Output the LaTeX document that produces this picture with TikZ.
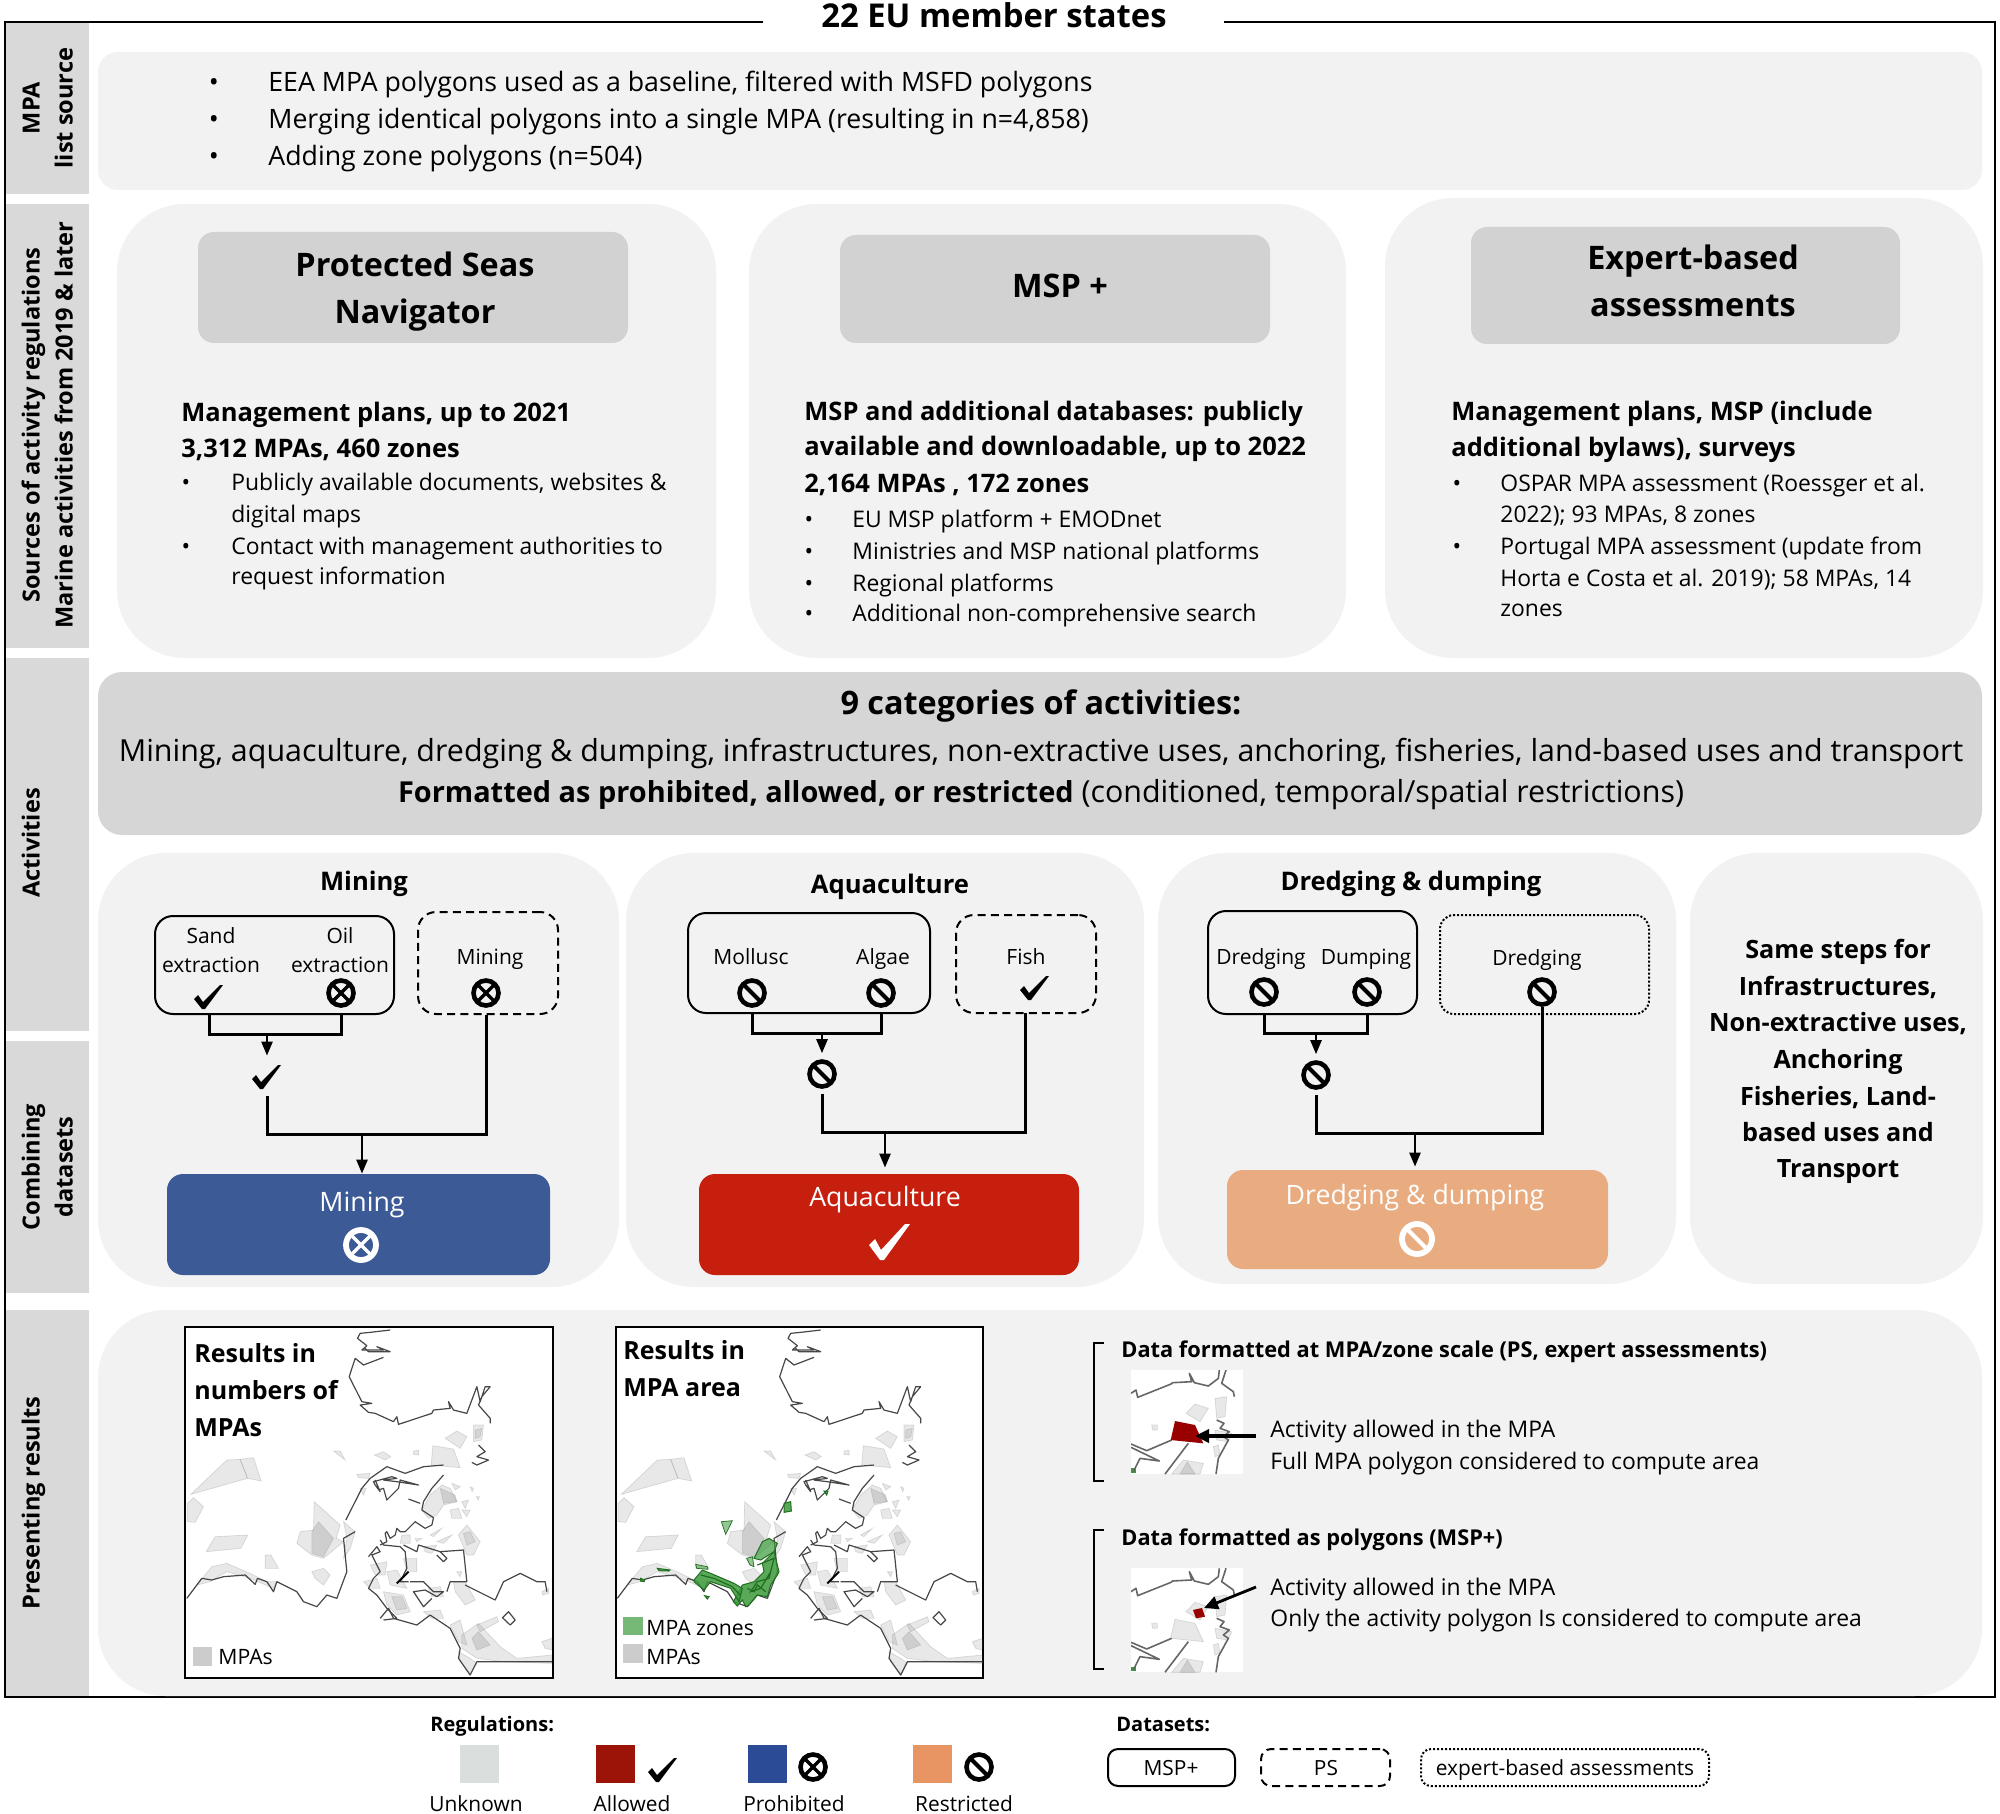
\documentclass[tikz,border=0pt]{standalone}
\usepackage{fontspec}
\setmainfont{Open Sans}
\usetikzlibrary{arrows.meta,calc}
\definecolor{panel}{HTML}{F2F2F2}
\definecolor{strip}{HTML}{D9D9D9}
\definecolor{hdr}{HTML}{D2D2D2}
\definecolor{actb}{HTML}{D6D6D6}
\definecolor{blueb}{HTML}{3C5A96}
\definecolor{redb}{HTML}{C61F0E}
\definecolor{orb}{HTML}{E8AC80}
\definecolor{gfill}{HTML}{3C9A3C}
\definecolor{gline}{HTML}{1F6E1F}
\newcommand\fsz[1]{\fontsize{#1}{#1}\selectfont}
\tikzset{
  txt/.style={inner sep=0pt,text height=1.16em,text depth=.22em},
  lft/.style={txt,anchor=west},
  f9/.style={font=\fsz{10.5},text height=.98em},
  f10/.style={font=\fsz{11.45}},
  f12/.style={font=\fsz{13.35}},
  fb11/.style={font=\bfseries\fsz{12.75}},
  fb15/.style={font=\bfseries\fsz{16.2}},
  fb/.style={font=\bfseries\fsz{#1}},
  fn/.style={font=\fsz{#1},text height=.98em},
  vlab/.style={txt,rotate=90,font=\bfseries\fsz{11.8},text height=.98em},
  pn/.style={fill=panel,draw=none,rounded corners=34pt},
  hd/.style={fill=hdr,draw=none,rounded corners=8pt},
  solidb/.style={draw=black,line width=1pt,rounded corners=9pt,fill=none},
  dashb/.style={draw=black,line width=1pt,rounded corners=9pt,fill=none,dash pattern=on 4pt off 2.6pt},
  dotb/.style={draw=black,line width=1pt,rounded corners=7pt,fill=none,dash pattern=on 1pt off 1pt},
  colb/.style={fill=#1,draw=none,rounded corners=8pt},
  wire/.style={draw=black,line width=1.5pt},
  arr/.style={draw=black,line width=1.25pt,-{Triangle[length=7pt,width=5.5pt]}},
  noic/.style={circle,draw=#1,line width=2.3pt,minimum size=12.5pt,inner sep=0pt,
     path picture={\draw[#1,line width=1.7pt] (path picture bounding box.north west)--(path picture bounding box.south east);
       \draw[#1,line width=1.7pt] (path picture bounding box.north east)--(path picture bounding box.south west);}},
  banic/.style={circle,draw=#1,line width=2.3pt,minimum size=12.5pt,inner sep=0pt,
     path picture={\draw[#1,line width=2pt] (path picture bounding box.north west)--(path picture bounding box.south east);}},
  bigic/.style={minimum size=15pt,line width=2.9pt},
  chkic/.style={inner sep=0pt,minimum width=16pt,minimum height=17pt,
     path picture={\begin{scope}[shift={(path picture bounding box.center)}]\fill[black] (-15,2)--(-11,-2)--(-6,5)--(11,-12)--(14,-12)--(-4,12)--(-7,12)--cycle;\end{scope}}},
  bchkic/.style={inner sep=0pt,minimum width=26pt,minimum height=26pt,
     path picture={\begin{scope}[shift={(path picture bounding box.center)}]\fill[white] (-21,3)--(-15,-3)--(-9,8)--(15,-18)--(20,-18)--(-6,18)--(-10,18)--cycle;\end{scope}}},
  mapframe/.style={fill=white,draw=black,line width=1pt},
  coast/.style={draw=black!72,line width=.6pt,fill=none,line join=round},
  gz/.style={fill=black!50,fill opacity=.18,draw=black!50,draw opacity=.25,line width=.35pt},
  gz2/.style={fill=black!60,fill opacity=.2,draw=black!50,draw opacity=.25,line width=.3pt},
  grn/.style={fill=gfill,fill opacity=.85,draw=gline,line width=.5pt},
  lgrn/.style={fill=gfill,fill opacity=.55,draw=gline,line width=.35pt},
  dgrn/.style={draw=gline,line width=.6pt,fill=none},
  tcoast/.style={draw=black!60,line width=.8pt,fill=none,line join=round},
}
\newcommand\bx[6]{\node[#1,inner sep=0pt,minimum width={(#5-#3)*.5pt},minimum height={(#6-#4)*.5pt}] (#2) at ({(#3+#5)/2},{(#4+#6)/2}) {};}
\newcommand\gp[1]{\fill[gz] #1 -- cycle;}
\newcommand\mapbase{%
  \begin{scope}
  \clip (6,6) rectangle (1105,1058);
  \gp{(22,508)--(130,405)--(170,403)--(192,460)}
  \gp{(170,403)--(210,398)--(233,468)--(192,460)}
  \gp{(12,535)--(30,518)--(60,545)--(35,592)--(12,590)}
  \gp{(68,680)--(95,635)--(193,630)--(172,670)}
  \gp{(340,655)--(350,620)--(390,615)--(392,530)--(470,600)--(458,640)--(480,650)--(420,700)--(385,690)}
  \fill[gz2] (385,620)--(405,590)--(450,640)--(420,695)--(385,685)--cycle;
  \gp{(245,690)--(262,690)--(285,730)--(245,730)}
  \gp{(785,340)--(820,318)--(850,335)--(830,370)}
  \gp{(748,362)--(810,372)--(830,428)--(743,420)}
  \gp{(450,378)--(470,378)--(485,405)}
  \gp{(573,390)--(600,380)--(622,395)--(605,405)}
  \gp{(690,378)--(705,376)--(705,390)--(690,388)}
  \gp{(520,448)--(560,445)--(555,460)--(525,458)}
  \gp{(870,300)--(900,300)--(895,345)--(870,350)}
  \gp{(875,315)--(895,310)--(890,335)--(875,340)}
  \gp{(715,555)--(740,510)--(775,480)--(800,490)--(820,530)--(780,540)--(760,570)--(735,580)}
  \fill[gz2] (770,490)--(815,510)--(820,530)--(780,535)--cycle;
  \gp{(800,555)--(825,550)--(835,580)--(805,580)}
  \gp{(835,530)--(855,525)--(845,550)}
  \gp{(835,555)--(860,555)--(850,575)}
  \gp{(805,475)--(830,485)--(815,495)}
  \gp{(825,630)--(850,600)--(890,650)--(870,690)--(850,690)}
  \gp{(840,625)--(860,620)--(875,650)--(850,660)}
  \gp{(740,630)--(775,610)--(750,635)}
  \gp{(760,650)--(805,630)--(780,655)}
  \gp{(720,665)--(760,660)--(745,685)--(725,680)}
  \gp{(655,630)--(680,630)--(680,655)--(650,655)}
  \gp{(695,640)--(715,640)--(700,650)}
  \gp{(480,590)--(515,620)--(500,670)--(480,700)--(490,640)}
  \gp{(40,780)--(85,725)--(130,715)--(200,745)--(250,770)--(280,770)--(270,790)--(200,760)--(130,740)--(95,760)--(80,770)}
  \gp{(385,740)--(420,730)--(440,750)--(420,780)--(395,760)}
  \gp{(610,740)--(640,735)--(670,790)--(620,780)}
  \gp{(600,800)--(660,810)--(680,860)--(640,870)--(610,840)}
  \gp{(625,815)--(655,815)--(670,850)--(640,855)}
  \gp{(810,770)--(845,770)--(875,825)--(845,840)--(815,800)}
  \gp{(720,860)--(770,855)--(780,880)--(745,880)}
  \gp{(880,900)--(940,875)--(945,890)--(890,920)}
  \gp{(835,930)--(885,895)--(950,965)--(1000,1000)--(1105,990)--(1105,1015)--(960,1010)--(880,1000)--(835,970)}
  \fill[gz2] (865,940)--(885,920)--(920,960)--(880,975)--cycle;
  \gp{(1075,950)--(1105,940)--(1105,975)--(1085,970)}
  \gp{(825,980)--(860,1000)--(880,1015)--(860,1045)--(830,1010)}
  \gp{(800,900)--(830,885)--(850,960)--(825,950)}
  \gp{(1075,800)--(1095,790)--(1095,805)--(1078,810)}
  \gp{(660,700)--(700,700)--(700,740)--(670,740)}
  \gp{(560,720)--(610,710)--(605,750)--(575,750)}
  \gp{(530,490)--(548,490)--(540,510)}
  \gp{(860,485)--(870,490)--(866,500)}
  \gp{(878,515)--(888,515)--(884,525)}
  \gp{(540,770)--(580,760)--(590,790)--(560,790)}
  \gp{(735,790)--(770,785)--(780,815)--(745,815)}
  \gp{(820,740)--(835,740)--(830,755)}
  \draw[coast] (620,15)--(560,22)--(530,25)--(522,40)--(550,62)--(535,75)--(600,75)--(580,65)--(620,80)--(555,80)--(545,70);
  \draw[coast] (600,97)--(540,120)--(515,100)--(497,155)--(535,230)--(565,235)--(530,240)--(555,262)--(575,265)--(630,290)--(640,275)--(645,298)--(745,265)--(750,255)--(800,250)--(795,230)--(810,255)--(850,265)--(880,185)--(890,230)--(905,185)--(920,185)--(895,215)--(885,240)--(920,280)--(920,295);
  \draw[coast] (885,360)--(905,380)--(880,395)--(915,405)--(880,420)--(865,412);
  \draw[coast] (487,585)--(535,490)--(560,460)--(610,425)--(665,445)--(720,425)--(780,420);
  \draw[coast] (780,450)--(745,490)--(720,530)--(715,555)--(750,578)--(745,600)--(725,610)--(695,590)--(665,620)--(650,620)--(640,610)--(635,630)--(620,640)--(610,620)--(605,625)--(610,650)--(590,660);
  \draw[coast] (575,465)--(590,500)--(575,480)--(570,470)--(625,455)--(640,460)--(600,465)--(640,470)--(705,480)--(650,465)--(645,490)--(610,525)--(600,490)--(585,495);
  \draw[coast] (675,522)--(710,535);
  \draw[coast] (590,645)--(600,660)--(650,665)--(665,680)--(670,730)--(650,770)--(675,770);
  \draw[coast] (555,695)--(580,665)--(590,680)--(565,690)--(590,740)--(570,760)--(555,790)--(580,810)--(610,850)--(640,880)--(600,885);
  \draw[coast] (660,660)--(700,680)--(705,660)--(770,680)--(840,675)--(850,770)--(800,770)--(790,800);
  \draw[coast] (770,680)--(790,700)--(780,710)--(760,690);
  \draw[black,line width=1pt] (640,775)--(675,740);
  \draw[coast] (680,770)--(720,770)--(750,800)--(780,800)--(760,815)--(725,795)--(690,800)--(720,845)--(745,820);
  \draw[coast] (590,880)--(615,850)--(630,880)--(700,900)--(740,870)--(800,910)--(830,970)--(825,1000)--(860,1050)--(880,1010)--(1105,1010);
  \draw[coast] (975,860)--(995,885)--(980,900)--(957,878)--cycle;
  \draw[coast] (845,780)--(935,825)--(960,770)--(1010,745)--(1060,770)--(1085,770)--(1090,800);
  \draw[coast] (10,820)--(55,760)--(85,765)--(120,755)--(185,750)--(215,778)--(222,760)--(250,770)--(270,800)--(280,770)--(340,800)--(360,830)--(400,845)--(430,810)--(460,820)--(490,740)--(480,640)--(515,620);
  \end{scope}}
\newcommand\thumbbase{%
  \fill[white] (93,30) rectangle (428,342);
  \begin{scope}
  \clip (93,30) rectangle (428,342);
  \gp{(258,160)--(285,132)--(325,145)--(300,185)}
  \gp{(345,115)--(380,110)--(375,170)--(350,175)}
  \gp{(155,195)--(172,195)--(172,210)--(158,210)}
  \gp{(215,342)--(250,300)--(310,310)--(300,342)}
  \fill[gz2] (240,342)--(262,305)--(285,342)--cycle;
  \gp{(345,210)--(395,220)--(385,245)--(350,240)}
  \gp{(340,260)--(355,255)--(360,285)--(345,290)}
  \fill[gfill] (93,325) rectangle (107,338);
  \draw[tcoast] (93,100)--(108,90)--(113,112)--(213,72)--(218,68)--(275,65)--(268,40)--(283,68)--(325,78)--(355,55)--(358,30);
  \draw[tcoast] (378,30)--(365,70)--(400,95)--(403,110);
  \draw[tcoast] (350,180)--(372,190)--(360,205)--(388,215)--(370,230)--(385,240)--(355,295)--(348,342);
  \draw[tcoast] (93,252)--(140,272)--(215,240);
  \draw[tcoast] (93,262)--(178,303)--(120,295)--(100,335);
  \draw[tcoast] (195,342)--(265,250);
  \end{scope}}
\begin{document}
\begin{tikzpicture}[x=.5pt,y=-.5pt]
\useasboundingbox (0,0) rectangle (2000,1813);
\fill[white] (0,0) rectangle (2000,1813);
% left strips
\bx{fill=strip}{sa}{5}{23}{89}{194}
\bx{fill=strip}{sb}{5}{204}{89}{648}
\bx{fill=strip}{sc}{5}{658}{89}{1031}
\bx{fill=strip}{sd}{5}{1041}{89}{1293}
\bx{fill=strip}{se}{5}{1310}{89}{1697}
% frame + title
\coordinate (fa) at (763,22);
\coordinate (fb) at (5,1697);
\coordinate (fc) at (1995,22);
\coordinate (fd) at (1224,22);
\draw[line width=1.2pt,black] (fa) -| (fb) -| (fc) -- (fd);
\node[txt,fb=16.4] (title) at (994,18) {22 EU member states};
% strip labels
\node[vlab] (v1) at (32,108) {MPA};
\node[vlab] (v2) at (65,108) {list source};
\node[vlab] (v3) at (32,425) {Sources of activity regulations};
\node[vlab] (v4) at (65,425) {Marine activities from 2019 \& later};
\node[vlab] (v5) at (32,843) {Activities};
\node[vlab] (v6) at (32,1167) {Combining};
\node[vlab] (v7) at (65,1167) {datasets};
\node[vlab] (v8) at (32,1503) {Presenting results};
% MPA list
\bx{fill=panel,rounded corners=10pt}{mpal}{98}{52}{1982}{190}
\node[txt,f12] (mb1) at (214,82) {•};
\node[txt,f12] (mb2) at (214,119) {•};
\node[txt,f12] (mb3) at (214,156) {•};
\node[lft,f12] (ml1) at (268,82) {EEA MPA polygons used as a baseline, filtered with MSFD polygons};
\node[lft,f12] (ml2) at (268,119) {Merging identical polygons into a single MPA (resulting in n=4,858)};
\node[lft,f12] (ml3) at (268,156) {Adding zone polygons (n=504)};
% sources
\bx{pn}{p1}{117}{204}{716}{658}
\bx{pn}{p2}{749}{204}{1346}{658}
\bx{pn}{p3}{1385}{198}{1983}{658}
\bx{hd}{h1}{198}{232}{628}{343}
\bx{hd}{h2}{840}{235}{1270}{343}
\bx{hd}{h3}{1471}{227}{1900}{344}
\node[txt,fb15] (h1a) at (415,267) {Protected Seas};
\node[txt,fb15] (h1b) at (415,314) {Navigator};
\node[txt,fb15] (h2a) at (1060,288) {MSP +};
\node[txt,fb15] (h3a) at (1693,260) {Expert-based};
\node[txt,fb15] (h3b) at (1693,307) {assessments};
% PS text
\node[lft,fb11] (t1a) at (181,412) {Management plans, up to 2021};
\node[lft,fb11] (t1b) at (181,448) {3,312 MPAs, 460 zones};
\node[txt,f10] (t1c) at (186,481) {•};
\node[txt,f10] (t1d) at (186,545) {•};
\node[lft,f10] (t1e) at (231,481) {Publicly available documents, websites \&};
\node[lft,f10] (t1f) at (231,513) {digital maps};
\node[lft,f10] (t1g) at (231,545) {Contact with management authorities to};
\node[lft,f10] (t1h) at (231,575) {request information};
% MSP text
\node[lft,fb11] (t2a) at (804,411) {MSP and additional databases: publicly};
\node[lft,fb11] (t2b) at (804,446) {available and downloadable, up to 2022};
\node[lft,fb11] (t2c) at (804,483) {2,164 MPAs , 172 zones};
\node[txt,f10] (t2d) at (809,518) {•};
\node[txt,f10] (t2e) at (809,550) {•};
\node[txt,f10] (t2f) at (809,582) {•};
\node[txt,f10] (t2g) at (809,612) {•};
\node[lft,f10] (t2h) at (852,518) {EU MSP platform + EMODnet};
\node[lft,f10] (t2i) at (852,550) {Ministries and MSP national platforms};
\node[lft,f10] (t2j) at (852,582) {Regional platforms};
\node[lft,f10] (t2k) at (852,612) {Additional non-comprehensive search};
% Expert text
\node[lft,fb11] (t3a) at (1451,411) {Management plans, MSP (include};
\node[lft,fb11] (t3b) at (1451,447) {additional bylaws), surveys};
\node[txt,f10] (t3c) at (1457,482) {•};
\node[txt,f10] (t3d) at (1457,545) {•};
\node[lft,f10] (t3e) at (1500,482) {OSPAR MPA assessment (Roessger et al.};
\node[lft,f10] (t3f) at (1500,513) {2022); 93 MPAs, 8 zones};
\node[lft,f10] (t3g) at (1500,545) {Portugal MPA assessment (update from};
\node[lft,f10] (t3h) at (1500,577) {Horta e Costa et al. 2019); 58 MPAs, 14};
\node[lft,f10] (t3i) at (1500,607) {zones};
% activities bar
\bx{fill=actb,rounded corners=12pt}{actbar}{98}{672}{1982}{835}
\node[txt,fb=16.2] (a1) at (1041,705) {9 categories of activities:};
\node[txt,fn=15.2] (a2) at (1041,754) {Mining, aquaculture, dredging \& dumping, infrastructures, non-extractive uses, anchoring, fisheries, land-based uses and transport};
\node[txt,fn=15.2] (a3) at (1041,795) {{\bfseries\fsz{14.45}Formatted as prohibited, allowed, or restricted} (conditioned, temporal/spatial restrictions)};
% panels
\bx{pn}{pa}{98}{853}{619}{1287}
\bx{pn}{pb}{626}{853}{1144}{1287}
\bx{pn}{pc}{1158}{853}{1676}{1284}
\bx{pn}{pd}{1690}{853}{1983}{1284}
\node[txt,fb=12.8] (pat) at (364,881) {Mining};
\node[txt,fb=12.8] (pbt) at (890,884) {Aquaculture};
\node[txt,fb=12.8] (pct) at (1411,881) {Dredging \& dumping};
\foreach \nm/\yy/\tx in {d1/949/Same steps for,d2/986/{Infrastructures,},d3/1022/{Non-extractive uses,},d4/1059/Anchoring,d5/1096/{Fisheries, Land-},d6/1132/based uses and,d7/1168/Transport}
  {\node[txt,fb=12.6] (\nm) at (1838,\yy) {\tx};}
% Mining
\bx{solidb}{mA}{155}{916}{394}{1014}
\bx{dashb}{mB}{418}{912}{558}{1014}
\node[txt,f9] (mA1) at (211,936) {Sand};
\node[txt,f9] (mA2) at (211,965) {extraction};
\node[txt,f9] (mA3) at (340,936) {Oil};
\node[txt,f9] (mA4) at (340,965) {extraction};
\node[txt,f9] (mB1) at (490,957) {Mining};
\node[chkic] (mi1) at (209,997) {};
\node[noic=black] (mi2) at (341,993) {};
\node[noic=black] (mi3) at (486,993) {};
\coordinate (mj1) at (267,1034);
\coordinate (mj2) at (362,1134);
\draw[wire] (mi1 |- mA.south) |- (mj1) -| (mi2 |- mA.south);
\node[chkic] (mr) at (267,1077) {};
\draw[arr] (mj1) -- ([yshift=2pt]mr.north);
\draw[wire] ([yshift=-1pt]mr.south) |- (mj2) -| (mi3 |- mB.south);
\bx{colb=blueb}{mC}{167}{1174}{550}{1275}
\draw[arr] (mj2) -- (mj2 |- mC.north);
\node[txt,f12,white] (mC1) at (362,1202) {Mining};
\node[noic=white,bigic] (mC2) at (361,1245) {};
% Aquaculture
\bx{solidb}{aA}{688}{913}{930}{1013}
\bx{dashb}{aB}{956}{915}{1096}{1013}
\node[txt,f9] (aA1) at (751,957) {Mollusc};
\node[txt,f9] (aA2) at (883,957) {Algae};
\node[txt,f9] (aB1) at (1026,957) {Fish};
\node[banic=black] (ai1) at (752,993) {};
\node[banic=black] (ai2) at (881,993) {};
\node[chkic] (ai3) at (1035,988) {};
\coordinate (aj1) at (822,1033);
\coordinate (aj2) at (885,1132);
\draw[wire] (ai1 |- aA.south) |- (aj1) -| (ai2 |- aA.south);
\node[banic=black] (ar) at (822,1074) {};
\draw[arr] (aj1) -- ([yshift=3pt]ar.north);
\coordinate (aj3) at (1025,1013);
\draw[wire] ([yshift=-2.5pt]ar.south) |- (aj2) -| (aj3);
\bx{colb=redb}{aC}{699}{1174}{1079}{1275}
\draw[arr] (aj2) -- ([yshift=3pt]aj2 |- aC.north);
\node[txt,f12,white] (aC1) at (885,1197) {Aquaculture};
\node[bchkic] (aC2) at (890,1242) {};
% Dredging
\bx{solidb}{dA}{1208}{911}{1417}{1014}
\bx{dotb}{dB}{1440}{915}{1649}{1014}
\node[txt,f9] (dA1) at (1261,957) {Dredging};
\node[txt,f9] (dA2) at (1366,957) {Dumping};
\node[txt,f9] (dB1) at (1537,958) {Dredging};
\node[banic=black] (di1) at (1264,992) {};
\node[banic=black] (di2) at (1367,992) {};
\node[banic=black] (di3) at (1542,992) {};
\coordinate (dj1) at (1316,1033);
\coordinate (dj2) at (1415,1133);
\draw[wire] (di1 |- dA.south) |- (dj1) -| (di2 |- dA.south);
\node[banic=black] (dr) at (1316,1075) {};
\draw[arr] (dj1) -- ([yshift=3pt]dr.north);
\draw[wire] ([yshift=-2.5pt]dr.south) |- (dj2) -| (di3.south);
\bx{colb=orb}{dC}{1227}{1170}{1608}{1269}
\draw[arr] (dj2) -- ([yshift=1.5pt]dj2 |- dC.north);
\node[txt,f12,white] (dC1) at (1415,1195) {Dredging \& dumping};
\node[banic=white,bigic] (dC2) at (1417,1239) {};
% Presenting
\bx{pn}{pres}{98}{1310}{1982}{1696}
\bx{mapframe}{m1}{185}{1327}{553}{1678}
\bx{mapframe}{m2}{616}{1327}{983}{1678}
\begin{scope}[shift={(183.5,1325)},x=.16667pt,y=-.16667pt]
\mapbase
\end{scope}
\begin{scope}[shift={(614,1325)},x=.16667pt,y=-.16667pt]
\mapbase
\fill[lgrn] (322,590)--(355,587)--(335,628)--cycle;
\fill[lgrn] (245,718)--(280,725)--(282,733)--(248,730)--cycle;
\fill[lgrn] (398,700)--(415,695)--(420,725)--(408,720)--cycle;
\fill[grn,fill opacity=.7] (420,700)--(445,650)--(465,640)--(490,655)--(480,680)--(440,705)--cycle;
\fill[grn] (385,780)--(420,770)--(450,740)--(445,715)--(480,680)--(495,740)--(490,750)--(470,780)--(460,815)--(430,810)--(405,840)--(395,845)--(385,825)--(370,843)--(358,830)--(380,790)--cycle;
\fill[grn] (240,765)--(265,735)--(290,745)--(360,775)--(385,790)--(375,830)--(350,790)--(290,770)--(270,795)--(240,770)--cycle;
\draw[dgrn] (430,720)--(480,700)--(465,760)--(430,770)--(410,800)--(440,790)--(470,740);
\draw[dgrn] (260,750)--(300,760)--(355,785)--(378,810);
\draw[dgrn] (400,790)--(420,800)--(430,780)--(455,800);
\fill[grn] (510,535)--(530,530)--(532,558)--(510,562)--cycle;
\fill[grn] (630,498)--(642,498)--(638,510)--cycle;
\fill[grn] (130,730)--(168,735)--(165,738)--(135,737)--cycle;
\fill[grn] (80,760)--(92,765)--(90,770)--(80,768)--cycle;
\fill[grn] (272,812)--(285,815)--(280,822)--cycle;
\end{scope}
\node[lft,fb=12.5] (r1) at (194,1353) {Results in};
\node[lft,fb=12.5] (r2) at (194,1390) {numbers of};
\node[lft,fb=12.5] (r3) at (194,1427) {MPAs};
\node[lft,fb=12.5] (r4) at (623,1350) {Results in};
\node[lft,fb=12.5] (r5) at (623,1387) {MPA area};
\bx{fill=black!20}{lg1}{193}{1647}{212}{1666}
\node[lft,fn=10.6] (lt1) at (218,1657) {MPAs};
\bx{fill=gfill!70}{lg2}{623}{1617}{643}{1635}
\node[lft,fn=10.6] (lt2) at (646,1628) {MPA zones};
\bx{fill=black!20}{lg3}{623}{1644}{643}{1663}
\node[lft,fn=10.6] (lt3) at (646,1657) {MPAs};
% right part
\coordinate (b1a) at (1104,1343);
\coordinate (b1b) at (1104,1481);
\coordinate (b2a) at (1104,1530);
\coordinate (b2b) at (1104,1669);
\draw[line width=1.1pt] (b1a) -- ++(-10,0) |- (b1b);
\draw[line width=1.1pt] (b2a) -- ++(-10,0) |- (b2b);
\node[lft,fb=10.9] (f1) at (1121,1348) {Data formatted at MPA/zone scale (PS, expert assessments)};
\node[lft,fb=10.9] (f2) at (1121,1536) {Data formatted as polygons (MSP+)};
\node[lft,f10] (f3) at (1270,1428) {Activity allowed in the MPA};
\node[lft,f10] (f4) at (1270,1460) {Full MPA polygon considered to compute area};
\node[lft,f10] (f5) at (1270,1586) {Activity allowed in the MPA};
\node[lft,f10] (f6) at (1270,1617) {Only the activity polygon Is considered to compute area};
\begin{scope}[shift={(1100,1360)},x=.16667pt,y=-.16667pt]
\thumbbase
\fill[red!60!black] (225,183)--(285,195)--(310,250)--(212,240)--cycle;
\end{scope}
\begin{scope}[shift={(1100,1558.3)},x=.16667pt,y=-.16667pt]
\thumbbase
\gp{(225,183)--(285,195)--(310,250)--(212,240)}
\fill[red!60!black] (279,155)--(306,149)--(315,175)--(288,180)--cycle;
\end{scope}
\coordinate (ar1a) at (1256,1436);
\coordinate (ar1b) at (1195,1436);
\coordinate (ar2a) at (1256,1587);
\coordinate (ar2b) at (1204,1608);
\draw[draw=black,line width=1.8pt,-{Triangle[length=7pt,width=6.5pt]}] (ar1a) -- (ar1b);
\draw[draw=black,line width=1.4pt,-{Triangle[length=7pt,width=6.5pt]}] (ar2a) -- (ar2b);
% legend
\node[lft,fb=10] (l1) at (430,1722) {Regulations:};
\node[lft,fb=10] (l2) at (1116,1722) {Datasets:};
\bx{fill={rgb,255:red,218;green,222;blue,220}}{u1}{460}{1745}{499}{1783}
\bx{fill={rgb,255:red,156;green,20;blue,8}}{u2}{596}{1745}{635}{1783}
\bx{fill={rgb,255:red,43;green,75;blue,150}}{u3}{748}{1745}{787}{1783}
\bx{fill={rgb,255:red,233;green,149;blue,99}}{u4}{913}{1745}{952}{1783}
\node[chkic] (li2) at (663,1770) {};
\node[noic=black] (li3) at (813,1767) {};
\node[banic=black] (li4) at (979,1767) {};
\node[txt,fn=10.45] (lu1) at (476,1804) {Unknown};
\node[txt,fn=10.45] (lu2) at (632,1804) {Allowed};
\node[txt,fn=10.45] (lu3) at (794,1804) {Prohibited};
\node[txt,fn=10.45] (lu4) at (964,1804) {Restricted};
\bx{solidb,rounded corners=5pt}{k1}{1108}{1749}{1235}{1786}
\bx{dashb,rounded corners=5pt}{k2}{1261}{1749}{1390}{1786}
\bx{dotb,rounded corners=5pt}{k3}{1421}{1749}{1709}{1786}
\node[txt,fn=10.45] (k1t) at (1171,1768) {MSP+};
\node[txt,fn=10.45] (k2t) at (1326,1768) {PS};
\node[txt,fn=10.45] (k3t) at (1565,1768) {expert-based assessments};
\end{tikzpicture}
\end{document}
